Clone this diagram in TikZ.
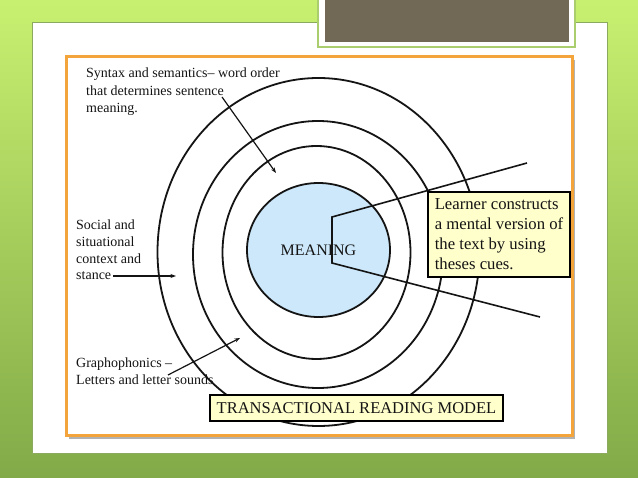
\documentclass[tikz,border=0pt]{standalone}
\usepackage{fontspec}
\setmainfont{Liberation Serif}
\usetikzlibrary{arrows.meta,shapes.geometric}
\definecolor{bgtop}{RGB}{200,240,112}
\definecolor{bgbot}{RGB}{130,170,72}
\definecolor{panelline}{RGB}{140,170,95}
\definecolor{titlefill}{RGB}{113,104,86}
\definecolor{titleline}{RGB}{170,205,110}
\definecolor{orangeline}{RGB}{243,164,58}
\definecolor{meaningfill}{RGB}{204,232,250}
\definecolor{notefill}{RGB}{255,255,204}
\definecolor{ink}{RGB}{20,20,20}
\begin{document}
\begin{tikzpicture}[x=1pt,y=-1pt,
  ring/.style={draw=ink, line width=1.8pt, ellipse, inner sep=0pt, outer sep=0pt},
  lbl/.style={text=ink, align=left, inner sep=0pt, anchor=base west},
  pointer/.style={draw=ink, line width=1.2pt, -{Stealth[length=5.5pt,width=4pt]}},
  notebox/.style={draw=black, line width=1.6pt, fill=notefill, text=ink, outer sep=0pt},
  callout/.style={draw=ink, line width=1.6pt}
]
\useasboundingbox (0,0) rectangle (638,478);
% background
\shade[top color=bgtop, bottom color=bgbot] (0,0) rectangle (638,478);
% white panel
\draw[panelline, line width=1pt, fill=white] (32,23) rectangle (607,454);
% title box
\draw[titleline, line width=1.5pt, fill=white] (318,-5) rectangle (575,47);
\fill[titlefill] (325,-5) rectangle (569,42);
% figure frame with shadow
\fill[black!30] (69,60) rectangle (575,439);
\draw[orangeline, line width=3pt, fill=white] (66,57) rectangle (572,436);
% rings
\node[ring, minimum width=322pt, minimum height=348pt] (outer) at (318.5,252) {};
\node[ring, minimum width=250pt, minimum height=267pt] (third) at (318,254.5) {};
\node[ring, minimum width=188pt, minimum height=213pt] (second) at (316.5,252.5) {};
\node[ring, fill=meaningfill, minimum width=143pt, minimum height=134pt,
      font=\fontsize{16}{19}\selectfont, text=ink] (meaning) at (318.5,250) {MEANING};
% callout lines
\coordinate (ltop) at (527,163);
\coordinate (lk1) at (332,217);
\coordinate (lk2) at (332,263);
\coordinate (lbot) at (540,317);
\draw[callout] (ltop) -- (lk1) -- (lk2) -- (lbot);
% learner box
\node[notebox, anchor=north west, minimum width=142pt, minimum height=85pt,
      align=left, inner xsep=6pt, inner ysep=0pt,
      font=\fontsize{16.7}{20}\selectfont] (learner) at (428,192)
  {Learner constructs\\a mental version of\\the text by using\\theses cues.};
% model box
\node[notebox, minimum width=293pt, minimum height=26pt, inner sep=0pt,
      font=\fontsize{16.5}{19}\selectfont] (model) at (356.5,408)
  {TRANSACTIONAL READING MODEL};
% labels (anchored at the baseline of their last line)
\node[lbl, font=\fontsize{14}{17.5}\selectfont] (syntax) at (86,113)
  {Syntax and semantics– word order\\that determines sentence\\meaning.};
\node[lbl, font=\fontsize{14}{16.7}\selectfont] (social) at (76,280)
  {Social and\\situational\\context and\\stance};
\node[lbl, font=\fontsize{14}{17}\selectfont] (grapho) at (76,385)
  {Graphophonics –\\Letters and letter sounds};
% pointers
\coordinate (s1) at (222,97);
\coordinate (s2) at (276,173);
\draw[pointer] (s1) -- (s2);
\coordinate (c1) at (113,276);
\coordinate (c2) at (176,276);
\draw[pointer] (c1) -- (c2);
\coordinate (g1) at (168,375);
\coordinate (g2) at (240,338);
\draw[pointer] (g1) -- (g2);
\end{tikzpicture}
\end{document}
